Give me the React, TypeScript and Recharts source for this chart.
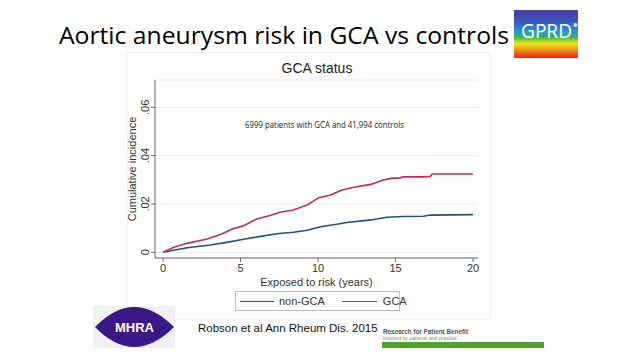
import { LineChart, Line, XAxis, YAxis, CartesianGrid } from 'recharts';

// Kaplan-Meier style cumulative incidence
const gcaYears = [0, 0.7, 1.55, 2.85, 3.7, 4.55, 5.2, 6.05, 6.9, 7.55, 8.4, 9.3, 10.05, 10.8, 11.55, 12.3, 13.4, 14.2, 14.7, 15.3, 15.5, 16.8, 17.25, 17.35, 20];
const gcaIncidence = [0, 0.0021, 0.0037, 0.0055, 0.0074, 0.0098, 0.011, 0.0138, 0.0152, 0.0166, 0.0175, 0.0196, 0.0226, 0.0237, 0.0258, 0.0269, 0.0281, 0.0299, 0.0306, 0.0308, 0.0312, 0.0312, 0.0314, 0.0324, 0.0324];

const nonGcaYears = [0, 1.55, 3.05, 4.1, 5.2, 6.3, 7.35, 8.4, 9.3, 10.15, 11.2, 11.85, 13.4, 14.45, 15.5, 16.8, 17.25, 20];
const nonGcaIncidence = [0, 0.0019, 0.003, 0.0041, 0.0054, 0.0066, 0.0077, 0.0083, 0.0091, 0.0106, 0.0116, 0.0123, 0.0134, 0.0145, 0.0148, 0.0149, 0.0154, 0.0156];

const xTicks = [0, 5, 10, 15, 20];
const yTicks = [0, 0.02, 0.04, 0.06];
const seriesNames = ['non-GCA', 'GCA'];

const gcaData = gcaYears.map((t, i) => ({ t, v: gcaIncidence[i] }));
const nonGcaData = nonGcaYears.map((t, i) => ({ t, v: nonGcaIncidence[i] }));

const BLUE = '#24507a';
const RED = '#bb3152';
const AXIS_FONT = '"Liberation Sans", Arial, sans-serif';

const fmtY = (v: number) => (v === 0 ? '0' : v.toFixed(2).replace(/^0/, ''));

const YTick = (props: any) => {
    const { x, y, payload } = props;
    return (
        <text x={x} y={y} transform={`rotate(-90 ${x} ${y})`} textAnchor="middle" fontSize={11} fill="#333" fontFamily={AXIS_FONT}>
            {fmtY(payload.value)}
        </text>
    );
};

export default function App() {
    return (
        <div style={{ position: 'absolute', left: 0, top: 0, width: 638, height: 359, background: '#fff', overflow: 'hidden' }}>
            {/* slide title */}
            <svg width={638} height={70} style={{ position: 'absolute', left: 0, top: 0 }}>
                <text x={59} y={44} fontSize={23.5} fontFamily='"Open Sans", "Noto Sans", sans-serif' fill="#000" textLength={450} lengthAdjust="spacingAndGlyphs">
                    Aortic aneurysm risk in GCA vs controls
                </text>
            </svg>

            {/* GPRD logo */}
            <div style={{
                position: 'absolute', left: 514, top: 10, width: 64, height: 48,
                background: 'linear-gradient(to bottom, #4a3ea6 0%, #3a4fb6 18%, #2d74cc 35%, #2a9bcc 46%, #3cb24a 56%, #9ccc2c 63%, #f4e21c 70%, #f6b21e 78%, #ef7a1f 86%, #e3261f 100%)',
            }}>
                <svg width={64} height={48} style={{ position: 'absolute', left: 0, top: 0 }}>
                    <text x={7} y={28} fontSize={20} fontWeight={500} fontFamily='"Open Sans", sans-serif' fill="#fff" textLength={51} lengthAdjust="spacingAndGlyphs">GPRD</text>
                    <circle cx={61.5} cy={15} r={2} fill="#fff" opacity={0.85} />
                </svg>
            </div>

            {/* faint frame of the pasted Stata graph */}
            <div style={{ position: 'absolute', left: 127, top: 52, width: 362, height: 266, border: '1px solid #f1f1f1' }} />

            <div style={{ position: 'absolute', left: 0, top: 0 }}>
                <LineChart width={638} height={359} margin={{ top: 80, right: 160, bottom: 71, left: 125 }}>
                    <CartesianGrid vertical={false} stroke="#e9eeee" />
                    <XAxis
                        type="number"
                        dataKey="t"
                        domain={[-0.52, 20.32]}
                        ticks={xTicks}
                        allowDataOverflow
                        height={30}
                        stroke="#666"
                        tickSize={4}
                        tick={{ fontSize: 11, fill: '#333', fontFamily: AXIS_FONT }}
                        label={{ value: 'Exposed to risk (years)', position: 'insideBottom', offset: 2, fontSize: 11, fill: '#333', fontFamily: AXIS_FONT }}
                    />
                    <YAxis
                        type="number"
                        dataKey="v"
                        domain={[-0.00236, 0.0713]}
                        ticks={yTicks}
                        allowDataOverflow
                        width={30}
                        stroke="#666"
                        tickSize={4}
                        tick={<YTick />}
                        label={{
                            content: (p: any) => {
                                const vb = p.viewBox;
                                const cx = vb.x + 11;
                                const cy = vb.y + vb.height / 2;
                                return (
                                    <text x={cx} y={cy} transform={`rotate(-90 ${cx} ${cy})`} textAnchor="middle" fontSize={11} fill="#333" fontFamily={AXIS_FONT}>
                                        Cumulative incidence
                                    </text>
                                );
                            },
                        }}
                    />
                    <Line data={nonGcaData} dataKey="v" name={seriesNames[0]} type="linear" stroke={BLUE} strokeWidth={1.6} dot={false} isAnimationActive={false} />
                    <Line data={gcaData} dataKey="v" name={seriesNames[1]} type="linear" stroke={RED} strokeWidth={1.6} dot={false} isAnimationActive={false} />
                </LineChart>
            </div>

            {/* graph title and note */}
            <svg width={638} height={359} style={{ position: 'absolute', left: 0, top: 0, pointerEvents: 'none' }}>
                <text x={317} y={73} textAnchor="middle" fontSize={14} fill="#1e1e1e" fontFamily={AXIS_FONT}>GCA status</text>
                <text x={245} y={128} fontSize={8.5} fill="#222" fontFamily='"Open Sans", sans-serif' textLength={159} lengthAdjust="spacingAndGlyphs">
                    6999 patients with GCA and 41,994 controls
                </text>
            </svg>

            {/* legend */}
            <div style={{
                position: 'absolute', left: 235, top: 291, width: 165, height: 20, border: '1px solid #bdbdbd',
                display: 'flex', alignItems: 'center', fontFamily: AXIS_FONT, fontSize: 11, color: '#333', boxSizing: 'border-box', whiteSpace: 'nowrap',
            }}>
                <span style={{ marginLeft: 4, width: 34, height: 0, flexShrink: 0, borderTop: `1.6px solid ${BLUE}` }} />
                <span style={{ marginLeft: 5, flexShrink: 0 }}>{seriesNames[0]}</span>
                <span style={{ marginLeft: 17, width: 35, height: 0, flexShrink: 0, borderTop: `1.6px solid ${RED}` }} />
                <span style={{ marginLeft: 6, flexShrink: 0 }}>{seriesNames[1]}</span>
            </div>

            {/* MHRA logo */}
            <svg width={90} height={46} style={{ position: 'absolute', left: 90, top: 304 }}>
                <rect x={3} y={2} width={82} height={42} fill="#f1f1f3" />
                <path d="M5,23 Q44,-17 84,23 Q44,63 5,23 Z" fill="#3a1886" />
                <text x={44.5} y={28} textAnchor="middle" fontSize={13} fontWeight="bold" fill="#fff" fontFamily={AXIS_FONT}>MHRA</text>
            </svg>

            <div style={{ position: 'absolute', left: 198, top: 322, fontFamily: AXIS_FONT, fontSize: 11.5, color: '#111', whiteSpace: 'nowrap' }}>
                Robson et al Ann Rheum Dis. 2015
            </div>

            {/* Research for Patient Benefit logo */}
            <svg width={170} height={24} style={{ position: 'absolute', left: 380, top: 326 }}>
                <text x={3} y={8} fontSize={6.5} fontWeight="bold" fill="#555" fontFamily={AXIS_FONT} textLength={85} lengthAdjust="spacingAndGlyphs">Research for Patient Benefit</text>
                <text x={3} y={13.5} fontSize={5} fill="#6aa83a" fontFamily={AXIS_FONT} textLength={74} lengthAdjust="spacingAndGlyphs">inspired by patients and practice</text>
                <rect x={2} y={16} width={162} height={6} fill="#52a22a" />
            </svg>
        </div>
    );
}
